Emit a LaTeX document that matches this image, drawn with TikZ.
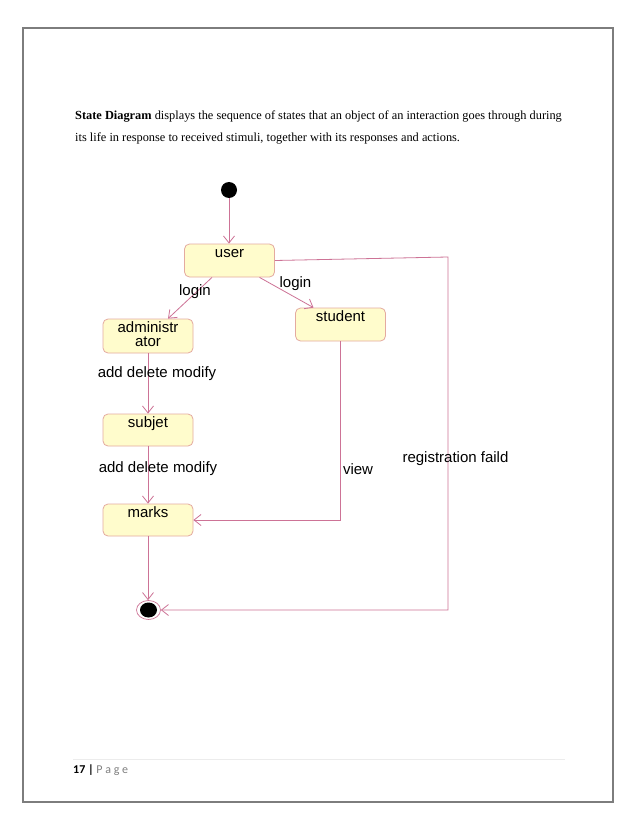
\documentclass[tikz,border=0pt]{standalone}
\usepackage{fontspec}
\setmainfont{Liberation Serif}
\newfontfamily\arialf{Liberation Sans}
\newfontfamily\calibrif{Carlito}
\usetikzlibrary{arrows.meta,shapes.geometric}
\definecolor{linec}{RGB}{205,115,150}
\definecolor{boxc}{RGB}{228,170,160}
\definecolor{fillc}{RGB}{255,252,204}
\definecolor{framec}{RGB}{125,125,125}
\tikzset{
  statebox/.style={draw=boxc, fill=fillc, rounded corners=5pt, line width=0.8pt,
    minimum width=90pt, inner xsep=0pt, inner ysep=2pt, text height=11pt, text depth=18pt,
    font=\arialf\fontsize{15}{13}\selectfont},
  tr/.style={draw=linec, line width=0.8pt, -{Straight Barb[length=7pt,width=11pt]}},
  lbl/.style={font=\arialf\fontsize{15}{18}\selectfont, anchor=base, inner sep=0pt},
  para/.style={font=\fontsize{12.35}{14}\selectfont, anchor=base west, inner sep=0pt}
}
\begin{document}
\begin{tikzpicture}[x=1pt,y=-1pt]
\useasboundingbox (0,0) rectangle (638,826);
\fill[white] (0,0) rectangle (638,826);
% page frame
\draw[framec, line width=2pt] (23,28) rectangle (613,802);
% paragraph
\node[para] (p1) at (75,120) {\textbf{State Diagram} displays the sequence of states that an object of an interaction goes through during};
\node[para] (p2) at (75,142) {its life in response to received stimuli, together with its responses and actions.};
% states
\node[circle, fill=black, minimum size=16pt, inner sep=0pt] (init) at (229,190) {};
\node[statebox] (user) at (229.5,260.5) {user};
\node[statebox] (student) at (340.5,324.5) {student};
\node[statebox, text depth=19pt] (admin) at (148,336) {\begin{tabular}[t]{@{}c@{}}administr\\[0.5pt]ator\end{tabular}};
\node[statebox, text depth=17pt] (subjet) at (148,430) {subjet};
\node[statebox, text depth=17pt] (marks) at (148,520) {marks};
\node[ellipse, draw=linec, line width=0.7pt, minimum width=24pt, minimum height=19pt, inner sep=0pt] (final) at (148.5,610) {};
\node[ellipse, fill=black, minimum width=17pt, minimum height=15pt, inner sep=0pt] (finalin) at (final.center) {};
\coordinate (c1) at (448,257);
\coordinate (c2) at (448,610);
% transitions
\draw[tr] (init.south) -- (init.south |- user.north);
\draw[tr] ([xshift=-17.5pt]user.south) -- ([xshift=20pt]admin.north);
\draw[tr] ([xshift=30pt]user.south) -- ([xshift=-27pt]student.north);
\draw[tr] (admin.south) -- (subjet.north);
\draw[tr] (subjet.south) -- (marks.north);
\draw[tr] (student.south) |- (marks.east);
\draw[tr] (marks.south) -- (marks.south |- final.north);
\draw[tr] (user.east) -- (c1) -- (c2) -- (final.east);
% labels
\node[lbl] (l1) at (195,295) {login};
\node[lbl] (l2) at (295.5,287) {login};
\node[lbl] (l3) at (157,377) {add delete modify};
\node[lbl] (l4) at (158,472) {add delete modify};
\node[lbl] (l5) at (358,474) {view};
\node[lbl] (l6) at (455.5,462) {registration faild};
% footer
\draw[gray!15, line width=0.8pt] (73,759) -- (565,759);
\node[anchor=base west, inner sep=0pt, font=\calibrif\fontsize{12}{14}\selectfont] (foot) at (73,773) {\textbf{17 |} {\color{gray}P a g e}};
\end{tikzpicture}
\end{document}
